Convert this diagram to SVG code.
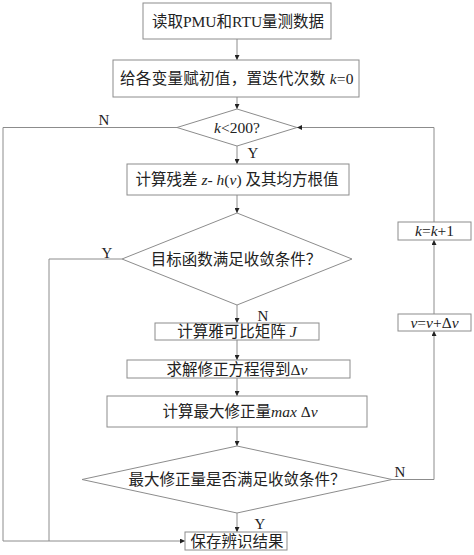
<svg xmlns="http://www.w3.org/2000/svg" width="474" height="555" viewBox="0 0 474 555">
<defs>
<style>
.box{fill:#fff;stroke:#8c8c8c;stroke-width:1}
.ln{fill:none;stroke:#8c8c8c;stroke-width:1}
.t{font-family:"Liberation Serif","Noto Sans CJK SC",serif;font-size:15.5px;fill:#222;text-anchor:middle}
.i{font-style:italic}
.lb{font-family:"Liberation Serif",serif;font-size:15px;fill:#222;text-anchor:middle}
</style>
<marker id="ar" viewBox="0 0 10 10" refX="10" refY="5" markerWidth="5" markerHeight="5" orient="auto" markerUnits="userSpaceOnUse">
<path d="M0,0 L10,5 L0,10 z" fill="#222"/>
</marker>
</defs>
<rect width="474" height="555" fill="#fff"/>
<g id="connectors">
<line class="ln" x1="237" y1="39" x2="237" y2="60" marker-end="url(#ar)"/>
<line class="ln" x1="237" y1="97" x2="237" y2="109" marker-end="url(#ar)"/>
<line class="ln" x1="237" y1="146" x2="237" y2="164" marker-end="url(#ar)"/>
<line class="ln" x1="237" y1="195" x2="237" y2="213" marker-end="url(#ar)"/>
<line class="ln" x1="237" y1="305" x2="237" y2="323" marker-end="url(#ar)"/>
<line class="ln" x1="237" y1="340" x2="237" y2="360" marker-end="url(#ar)"/>
<line class="ln" x1="237" y1="378" x2="237" y2="396" marker-end="url(#ar)"/>
<line class="ln" x1="237" y1="427" x2="237" y2="446" marker-end="url(#ar)"/>
<line class="ln" x1="237" y1="513" x2="237" y2="532" marker-end="url(#ar)"/>
<polyline class="ln" points="177,127.5 3,127.5 3,541 185,541" marker-end="url(#ar)"/>
<polyline class="ln" points="122,259 49,259 49,541"/>
<polyline class="ln" points="392,479.5 434,479.5 434,331" marker-end="url(#ar)"/>
<line class="ln" x1="434" y1="314" x2="434" y2="240" marker-end="url(#ar)"/>
<polyline class="ln" points="434,222 434,127.5 297,127.5" marker-end="url(#ar)"/>
<text class="lb" x="104" y="125">N</text>
<text class="lb" x="253" y="158">Y</text>
<text class="lb" x="107" y="258">Y</text>
<text class="lb" x="263" y="321">N</text>
<text class="lb" x="400" y="477">N</text>
<text class="lb" x="260" y="529">Y</text>
</g>
<g id="n1"><rect class="box" x="143" y="3" width="188" height="36"/><text class="t" x="238" y="26.5">读取PMU和RTU量测数据</text></g>
<g id="n2"><rect class="box" x="113" y="60" width="246" height="37"/><text class="t" x="237" y="84" letter-spacing="0.3">给各变量赋初值，置迭代次数 <tspan class="i">k</tspan>=0</text></g>
<g id="n3"><polygon class="box" points="237,109 297,127.5 237,146 177,127.5"/><text class="t" x="237" y="133"><tspan class="i">k</tspan>&lt;200?</text></g>
<g id="n4"><rect class="box" x="127" y="164" width="222" height="31"/><text class="t" x="237" y="185">计算残差 <tspan class="i">z</tspan>- <tspan class="i">h</tspan>(<tspan class="i">v</tspan>) 及其均方根值</text></g>
<g id="n5"><polygon class="box" points="237,213 352,259 237,305 122,259"/><text class="t" x="236" y="264.5">目标函数满足收敛条件？</text></g>
<g id="n6"><rect class="box" x="155" y="323" width="164" height="17"/><text class="t" x="237" y="337">计算雅可比矩阵 <tspan class="i">J</tspan></text></g>
<g id="n7"><rect class="box" x="127" y="360" width="223" height="18"/><text class="t" x="237" y="374.5">求解修正方程得到Δ<tspan class="i">v</tspan></text></g>
<g id="n8"><rect class="box" x="107" y="396" width="260" height="31"/><text class="t" x="240" y="417">计算最大修正量<tspan class="i">max</tspan> Δ<tspan class="i">v</tspan></text></g>
<g id="n9"><polygon class="box" points="237,446 392,479.5 237,513 82,479.5"/><text class="t" x="237" y="485">最大修正量是否满足收敛条件？</text></g>
<g id="n10"><rect class="box" x="185" y="532" width="102" height="18"/><text class="t" x="237" y="546.5">保存辨识结果</text></g>
<g id="n11"><rect class="box" x="398" y="222" width="73" height="18"/><text class="t" x="434.5" y="236"><tspan class="i">k</tspan>=<tspan class="i">k</tspan>+1</text></g>
<g id="n12"><rect class="box" x="398" y="314" width="73" height="17"/><text class="t" x="434.5" y="327.5"><tspan class="i">v</tspan>=<tspan class="i">v</tspan>+Δ<tspan class="i">v</tspan></text></g>
</svg>
